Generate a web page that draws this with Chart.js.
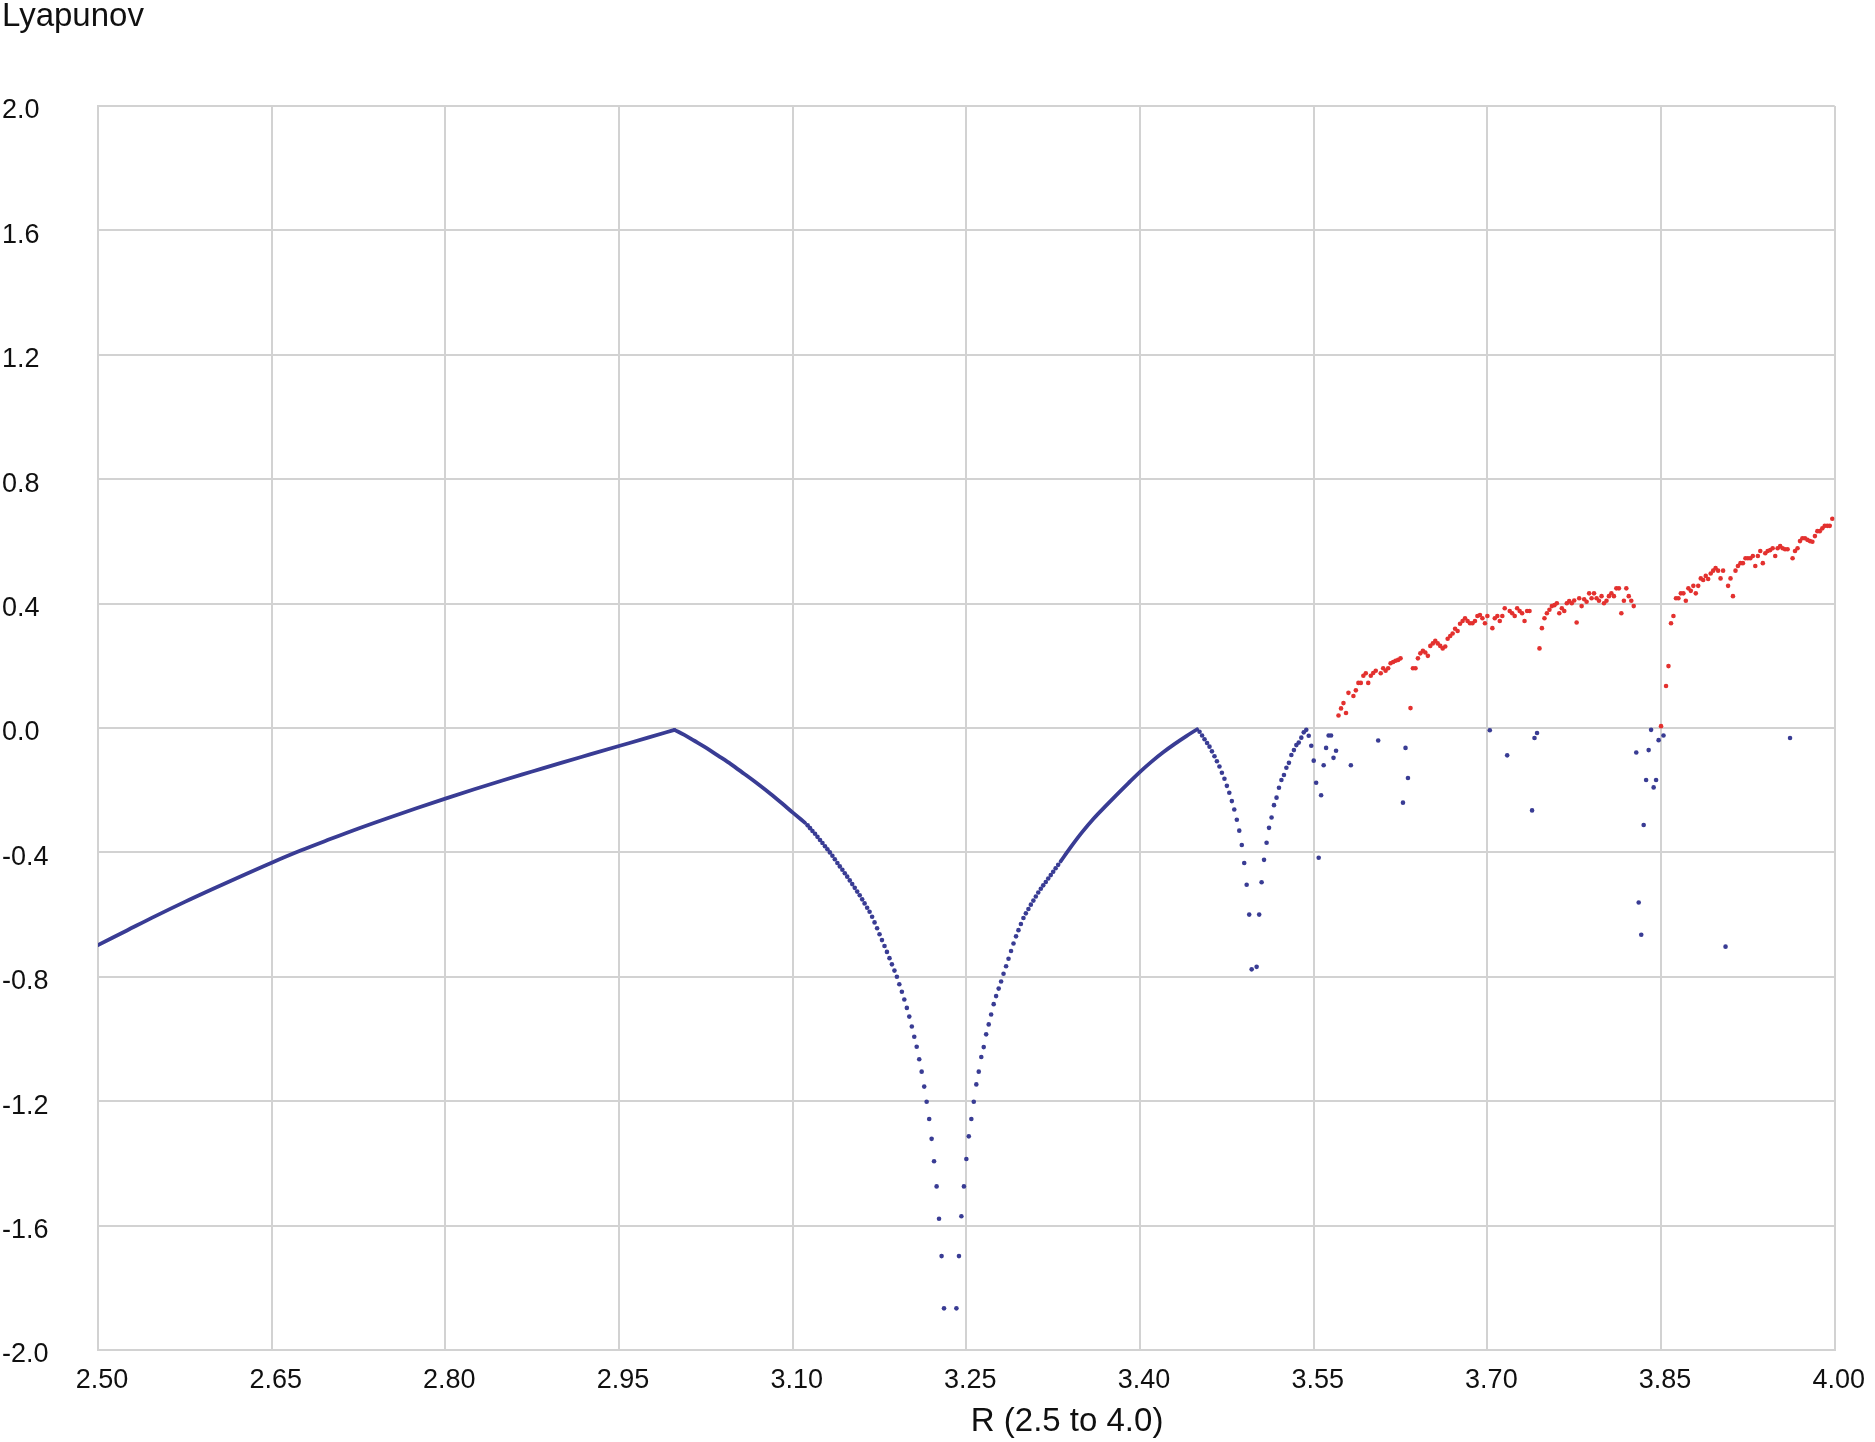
<!DOCTYPE html>
<html>
<head>
<meta charset="utf-8">
<title>Lyapunov</title>
<script src="https://cdn.jsdelivr.net/npm/chart.js@4.4.1/dist/chart.umd.min.js"></script>
<style>
	html, body { margin: 0; padding: 0; background: #fff; }
	#wrap { width: 1875px; height: 1442px; }
</style>
</head>
<body>
<div id="wrap"><canvas id="chart" width="1875" height="1442"></canvas></div>
<script>
'use strict';

// tick values
const xTicks = [2.50, 2.65, 2.80, 2.95, 3.10, 3.25, 3.40, 3.55, 3.70, 3.85, 4.00];
const yTicks = [-2.0, -1.6, -1.2, -0.8, -0.4, 0.0, 0.4, 0.8, 1.2, 1.6, 2.0];

// smooth stretches, where the dots run together into a line
const riseR = [2.50, 2.525, 2.55, 2.575, 2.60, 2.625, 2.65, 2.675, 2.70, 2.725, 2.75, 2.775, 2.80, 2.825, 2.85, 2.875, 2.90, 2.925, 2.95, 2.975, 2.9979];
const riseL = [-0.698, -0.651, -0.604, -0.559, -0.516, -0.474, -0.433, -0.394, -0.358, -0.323, -0.290, -0.258, -0.227, -0.197, -0.168, -0.140, -0.112, -0.085, -0.058, -0.031, -0.006];

const fallR = [2.9979, 3.0064, 3.0151, 3.0250, 3.0352, 3.0466, 3.058, 3.070, 3.081, 3.0907, 3.1004, 3.1107];
const fallL = [-0.006, -0.022, -0.041, -0.063, -0.088, -0.116, -0.147, -0.180, -0.212, -0.242, -0.273, -0.305];

const climbR = [3.3314, 3.34, 3.35, 3.36, 3.37, 3.38, 3.39, 3.40, 3.41, 3.42, 3.43, 3.44, 3.4493];
const climbL = [-0.429, -0.384, -0.335, -0.291, -0.252, -0.214, -0.177, -0.141, -0.108, -0.078, -0.051, -0.026, -0.004];

// negative exponent points (blue)
const blueR = [
	3.1129, 3.1150, 3.1171, 3.1193, 3.1214, 3.1236, 3.1257, 3.1279, 3.1300,
	3.1321, 3.1343, 3.1364, 3.1386, 3.1407, 3.1429, 3.1450, 3.1471, 3.1493, 3.1514,
	3.1536, 3.1557, 3.1579, 3.1600, 3.1621, 3.1643, 3.1664, 3.1686, 3.1707, 3.1729,
	3.1750, 3.1771, 3.1793, 3.1814, 3.1836, 3.1857, 3.1879, 3.1900, 3.1921, 3.1943,
	3.1964, 3.1986, 3.2007, 3.2029, 3.2050, 3.2071, 3.2093, 3.2114, 3.2136, 3.2157,
	3.2179, 3.2200, 3.2221, 3.2243, 3.2264, 3.2286, 3.2307,
	3.2414, 3.2436, 3.2457, 3.2479, 3.2500, 3.2521, 3.2543, 3.2564, 3.2586, 3.2607,
	3.2629, 3.2650, 3.2671, 3.2693, 3.2714, 3.2736, 3.2757, 3.2779, 3.2800, 3.2821,
	3.2843, 3.2864, 3.2886, 3.2907, 3.2929, 3.2950, 3.2971, 3.2993, 3.3014, 3.3036,
	3.3057, 3.3079, 3.3100, 3.3121, 3.3143, 3.3164, 3.3186, 3.3207, 3.3229, 3.3250,
	3.3271, 3.3293,
	3.4514, 3.4536, 3.4557, 3.4579, 3.4600, 3.4621, 3.4643, 3.4664, 3.4686, 3.4707,
	3.4729, 3.4750, 3.4771, 3.4793, 3.4814, 3.4836, 3.4857, 3.4879, 3.4900, 3.4921,
	3.4943, 3.4964,
	3.5007, 3.5029, 3.5050, 3.5071, 3.5093, 3.5114, 3.5136, 3.5157, 3.5179, 3.5200,
	3.5221, 3.5243, 3.5264, 3.5286, 3.5307, 3.5329, 3.5350, 3.5371, 3.5393, 3.5414,
	3.5436, 3.5457, 3.5479, 3.5500, 3.5521, 3.5543, 3.5564, 3.5586, 3.5607, 3.5629,
	3.5650, 3.5671, 3.5693,
	3.5821, 3.6057, 3.6271, 3.6293, 3.6314, 3.7021, 3.7171, 3.7386, 3.7407, 3.7429,
	3.8286, 3.8307, 3.8329, 3.8350, 3.8371, 3.8393, 3.8414, 3.8436, 3.8457, 3.8479,
	3.8521, 3.9057, 3.9614
];
const blueL = [
	-0.313, -0.322, -0.331, -0.340, -0.350, -0.360, -0.370, -0.380, -0.390,
	-0.400, -0.411, -0.422, -0.434, -0.445, -0.456, -0.467, -0.478, -0.490, -0.502,
	-0.514, -0.526, -0.538, -0.551, -0.564, -0.578, -0.591, -0.607, -0.625, -0.644,
	-0.663, -0.682, -0.701, -0.720, -0.740, -0.760, -0.780, -0.800, -0.824, -0.848,
	-0.873, -0.900, -0.928, -0.960, -0.993, -1.025, -1.065, -1.105, -1.153, -1.202,
	-1.257, -1.321, -1.393, -1.474, -1.578, -1.698, -1.866,
	-1.866, -1.698, -1.570, -1.474, -1.386, -1.313, -1.257, -1.202, -1.146, -1.105,
	-1.058, -1.026, -0.985, -0.953, -0.921, -0.888, -0.862, -0.838, -0.815, -0.790,
	-0.766, -0.742, -0.717, -0.693, -0.670, -0.650, -0.630, -0.611, -0.596, -0.582,
	-0.568, -0.555, -0.542, -0.529, -0.517, -0.506, -0.495, -0.484, -0.473, -0.462,
	-0.451, -0.440,
	-0.012, -0.024, -0.036, -0.048, -0.060, -0.075, -0.091, -0.107, -0.124, -0.144,
	-0.163, -0.186, -0.208, -0.235, -0.262, -0.295, -0.330, -0.376, -0.434, -0.504,
	-0.600, -0.776,
	-0.768, -0.600, -0.496, -0.424, -0.369, -0.321, -0.288, -0.248, -0.224, -0.192,
	-0.167, -0.151, -0.128, -0.112, -0.087, -0.071, -0.055, -0.047, -0.031, -0.014,
	-0.006, -0.025, -0.057, -0.105, -0.176, -0.417, -0.216, -0.120, -0.064, -0.024,
	-0.024, -0.096, -0.073,
	-0.120, -0.040, -0.240, -0.064, -0.161, -0.007, -0.088, -0.265, -0.032, -0.016,
	-0.079, -0.561, -0.665, -0.312, -0.167, -0.071, -0.006, -0.191, -0.167, -0.039,
	-0.024, -0.703, -0.032
];

// positive exponent points (red, chaos)
const redR = [
	3.5714, 3.5736, 3.5757, 3.5779, 3.5800, 3.5843, 3.5864, 3.5886, 3.5907, 3.5929,
	3.5950, 3.5971, 3.5993, 3.6014, 3.6036, 3.6079, 3.6100, 3.6121, 3.6143, 3.6164,
	3.6186, 3.6207, 3.6229, 3.6250, 3.6336, 3.6357, 3.6379, 3.6400, 3.6421, 3.6443,
	3.6464, 3.6486, 3.6507, 3.6529, 3.6550, 3.6571, 3.6593, 3.6614, 3.6636, 3.6657,
	3.6679, 3.6700, 3.6721, 3.6743, 3.6764, 3.6786, 3.6807, 3.6829, 3.6850, 3.6871,
	3.6893, 3.6914, 3.6936, 3.6957, 3.6979, 3.7000, 3.7043, 3.7064, 3.7086, 3.7107,
	3.7129, 3.7150, 3.7193, 3.7214, 3.7236, 3.7257, 3.7279, 3.7300, 3.7321, 3.7343,
	3.7364, 3.7450, 3.7471, 3.7493, 3.7514, 3.7536, 3.7557, 3.7579, 3.7600, 3.7621,
	3.7643, 3.7664, 3.7686, 3.7707, 3.7729, 3.7750, 3.7771, 3.7793, 3.7814, 3.7836,
	3.7857, 3.7879, 3.7900, 3.7921, 3.7943, 3.7964, 3.7986, 3.8007, 3.8029, 3.8050,
	3.8071, 3.8093, 3.8114, 3.8136, 3.8157, 3.8179, 3.8200, 3.8221, 3.8243, 3.8264,
	3.8500, 3.8543, 3.8564, 3.8586, 3.8607, 3.8629, 3.8650, 3.8671, 3.8693, 3.8714,
	3.8736, 3.8757, 3.8779, 3.8800, 3.8821, 3.8843, 3.8864, 3.8886, 3.8907, 3.8929,
	3.8950, 3.8971, 3.8993, 3.9014, 3.9036, 3.9079, 3.9100, 3.9121, 3.9143, 3.9164,
	3.9186, 3.9207, 3.9229, 3.9250, 3.9271, 3.9293, 3.9314, 3.9336, 3.9357, 3.9379,
	3.9400, 3.9421, 3.9443, 3.9464, 3.9486, 3.9507, 3.9529, 3.9550, 3.9571, 3.9593,
	3.9636, 3.9657, 3.9679, 3.9700, 3.9721, 3.9743, 3.9764, 3.9786, 3.9807, 3.9829,
	3.9850, 3.9871, 3.9893, 3.9914, 3.9936, 3.9957, 3.9979
];
const redL = [
	0.040, 0.063, 0.080, 0.048, 0.113, 0.103, 0.121, 0.145, 0.145, 0.168,
	0.176, 0.145, 0.168, 0.177, 0.184, 0.176, 0.192, 0.184, 0.192, 0.208,
	0.212, 0.216, 0.219, 0.224, 0.064, 0.192, 0.192, 0.224, 0.240, 0.248,
	0.243, 0.232, 0.264, 0.272, 0.280, 0.272, 0.264, 0.256, 0.262, 0.287,
	0.296, 0.304, 0.319, 0.312, 0.335, 0.344, 0.353, 0.344, 0.337, 0.337,
	0.344, 0.360, 0.363, 0.353, 0.337, 0.360, 0.321, 0.353, 0.360, 0.344,
	0.360, 0.385, 0.376, 0.369, 0.360, 0.385, 0.376, 0.369, 0.344, 0.376,
	0.376, 0.256, 0.321, 0.353, 0.369, 0.380, 0.392, 0.395, 0.401, 0.369,
	0.385, 0.376, 0.401, 0.408, 0.401, 0.410, 0.339, 0.417, 0.392, 0.414,
	0.406, 0.433, 0.417, 0.433, 0.417, 0.409, 0.424, 0.401, 0.409, 0.424,
	0.433, 0.424, 0.449, 0.449, 0.369, 0.409, 0.449, 0.424, 0.409, 0.392,
	0.006, 0.135, 0.199, 0.337, 0.360, 0.417, 0.417, 0.433, 0.433, 0.409,
	0.449, 0.441, 0.457, 0.433, 0.457, 0.481, 0.476, 0.489, 0.479, 0.497,
	0.506, 0.514, 0.506, 0.481, 0.506, 0.457, 0.481, 0.424, 0.506, 0.521,
	0.530, 0.530, 0.546, 0.546, 0.546, 0.553, 0.521, 0.553, 0.569, 0.530,
	0.562, 0.569, 0.572, 0.578, 0.553, 0.578, 0.585, 0.578, 0.575, 0.575,
	0.546, 0.569, 0.578, 0.601, 0.610, 0.610, 0.605, 0.601, 0.599, 0.617,
	0.633, 0.633, 0.642, 0.650, 0.650, 0.650, 0.673
];

const BLUE = '#393c94';
const RED = '#e3312f';
const GRID = '#d2d2d2';
const TEXT = '#101010';
const FONT = '"Liberation Sans", Arial, sans-serif';
const X_TITLE = 'R (2.5 to 4.0)';

const pts = (rs, ls) => rs.map((r, i) => ({ x: r, y: ls[i] }));

const lineSet = (rs, ls) => ({
	data: pts(rs, ls),
	showLine: true,
	borderColor: BLUE,
	borderWidth: 3.8,
	borderCapStyle: 'round',
	borderJoinStyle: 'round',
	cubicInterpolationMode: 'monotone',
	pointRadius: 0,
	fill: false,
});

const dotSet = (rs, ls, color) => ({
	data: pts(rs, ls),
	showLine: false,
	pointRadius: 2.3,
	pointBorderWidth: 0,
	pointBackgroundColor: color,
	pointBorderColor: color,
});

// x axis caption sits right of centre in the original
const axisTitle = {
	id: 'axisTitle',
	afterDraw(chart) {
		const { ctx, chartArea } = chart;
		ctx.save();
		ctx.font = '33px ' + FONT;
		ctx.fillStyle = TEXT;
		ctx.textAlign = 'center';
		ctx.textBaseline = 'alphabetic';
		ctx.fillText(X_TITLE, chartArea.left + chartArea.width * 0.558, chartArea.bottom + 81);
		ctx.restore();
	},
};

new Chart(document.getElementById('chart'), {
	type: 'scatter',
	data: {
		datasets: [
			lineSet(riseR, riseL),
			lineSet(fallR, fallL),
			lineSet(climbR, climbL),
			dotSet(blueR, blueL, BLUE),
			dotSet(redR, redL, RED),
		],
	},
	options: {
		responsive: false,
		devicePixelRatio: 1,
		animation: false,
		events: [],
		layout: { padding: { left: 2, right: 34, top: 0, bottom: 0 } },
		plugins: {
			legend: { display: false },
			tooltip: { enabled: false },
			title: {
				display: true,
				text: 'Lyapunov',
				align: 'start',
				color: TEXT,
				font: { family: FONT, size: 33, weight: 'normal', lineHeight: 1 },
				padding: { top: 0, bottom: 73 },
			},
		},
		scales: {
			x: {
				type: 'linear',
				min: 2.5,
				max: 4.0,
				afterBuildTicks: (s) => { s.ticks = xTicks.map((v) => ({ value: v })); },
				afterFit: (s) => { s.height = 92; },
				ticks: {
					callback: (v) => Number(v).toFixed(2),
					color: TEXT,
					font: { family: FONT, size: 27 },
					padding: 14,
					labelOffset: 4,
					maxRotation: 0,
					autoSkip: false,
				},
				grid: { color: GRID, lineWidth: 2, drawTicks: false },
				border: { color: GRID, width: 2 },
			},
			y: {
				type: 'linear',
				min: -2,
				max: 2,
				afterBuildTicks: (s) => { s.ticks = yTicks.map((v) => ({ value: v })); },
				afterFit: (s) => { s.width = 96; },
				ticks: {
					callback: (v) => Number(v).toFixed(1),
					color: TEXT,
					font: { family: FONT, size: 27 },
					crossAlign: 'far',
					labelOffset: 5,
					padding: 0,
					autoSkip: false,
				},
				grid: { color: GRID, lineWidth: 2, drawTicks: false },
				border: { color: GRID, width: 2 },
			},
		},
	},
	plugins: [axisTitle],
});
</script>
</body>
</html>
